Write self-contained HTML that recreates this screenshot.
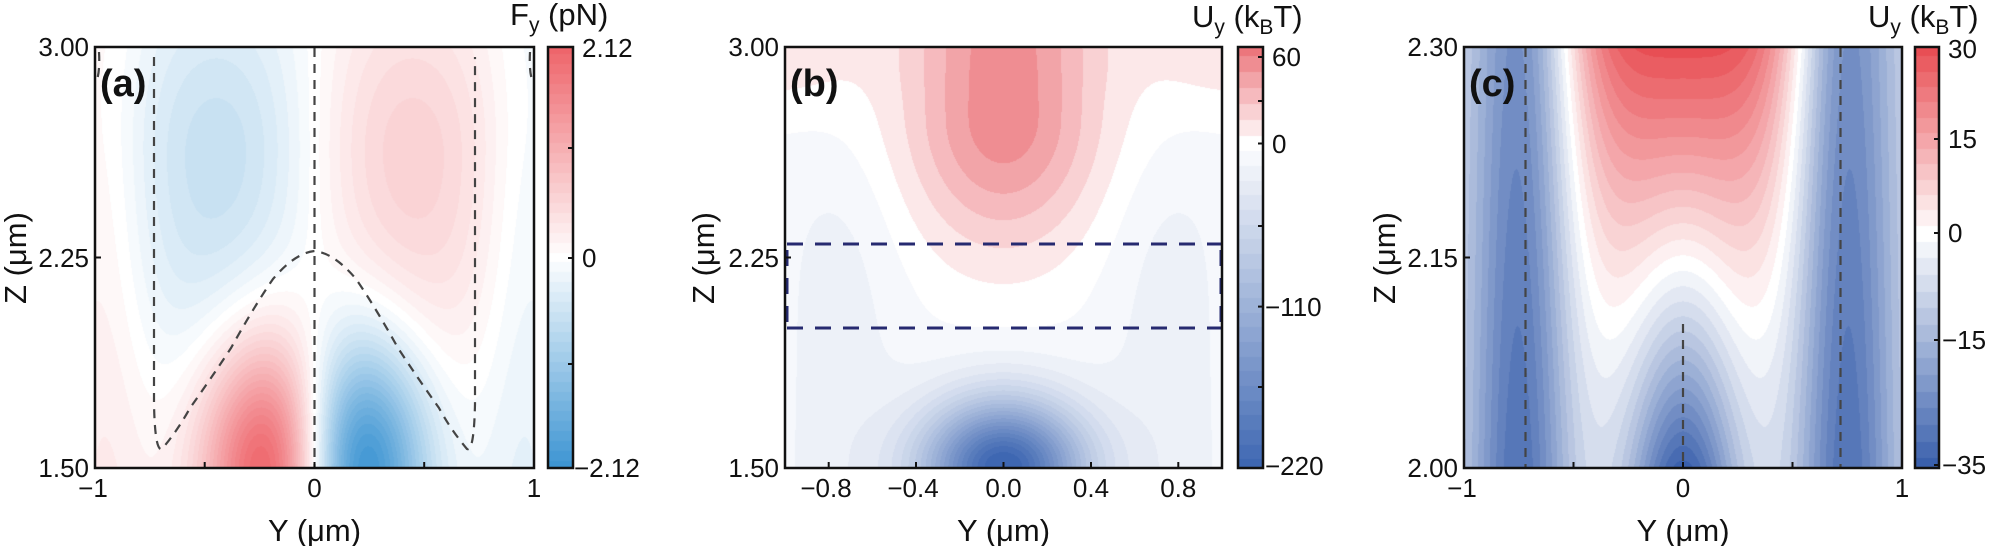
<!DOCTYPE html>
<html><head><meta charset="utf-8"><style>
html,body{margin:0;padding:0;background:#fff;}
#wrap{position:relative;width:1996px;height:546px;overflow:hidden;background:#fff;}
canvas{position:absolute;}
svg{position:absolute;left:0;top:0;}
text{font-family:"Liberation Sans",Arial,sans-serif;fill:#111;}
</style></head><body>
<div id="wrap">
<canvas id="ca" width="439" height="421" style="left:95px;top:47px"></canvas>
<canvas id="cba" width="25" height="421" style="left:548px;top:47px"></canvas>
<canvas id="cb" width="437" height="421" style="left:785px;top:47px"></canvas>
<canvas id="cbb" width="25" height="421" style="left:1238px;top:47px"></canvas>
<canvas id="cc" width="438" height="421" style="left:1464px;top:47px"></canvas>
<canvas id="cbc" width="24" height="421" style="left:1915px;top:47px"></canvas>
<svg width="1996" height="546" viewBox="0 0 1996 546">
<!-- Panel a -->
<g fill="none" stroke="#444" stroke-width="2.2" stroke-dasharray="9,7">
<line x1="314.5" y1="48" x2="314.5" y2="467"/>
<path d="M154,57 L154,404 Q155,452 162,449 Q178,430 190,408 Q210,380 231,348 Q255,305 273,279 Q295,253 314.5,251 Q334,253 356,279 Q374,305 398,348 Q419,380 439,408 Q451,430 467,449 Q474,452 475,404 L475,57"/>
<path d="M99,52 Q100,70 97,80"/><path d="M530,52 Q529,70 532,80"/>
</g>
<rect x="95" y="47" width="439" height="421" fill="none" stroke="#111" stroke-width="2.5"/>
<g stroke="#111" stroke-width="2">
<line x1="204.7" y1="468" x2="204.7" y2="462"/><line x1="314.5" y1="468" x2="314.5" y2="462"/><line x1="424.2" y1="468" x2="424.2" y2="462"/>
<line x1="95" y1="257.5" x2="101" y2="257.5"/>
</g>
<rect x="548" y="47" width="25" height="421" fill="none" stroke="#111" stroke-width="2.5"/>
<g stroke="#111" stroke-width="2"><line x1="573" y1="148" x2="568" y2="148"/><line x1="573" y1="258" x2="568" y2="258"/><line x1="573" y1="364" x2="568" y2="364"/></g>
<g font-size="26">
<text x="89" y="56" text-anchor="end">3.00</text>
<text x="89" y="267" text-anchor="end">2.25</text>
<text x="89" y="477" text-anchor="end">1.50</text>
<text x="93" y="497" text-anchor="middle">−1</text>
<text x="314.5" y="497" text-anchor="middle">0</text>
<text x="534" y="497" text-anchor="middle">1</text>
<text x="582" y="57">2.12</text>
<text x="582" y="267">0</text>
<text x="574" y="477">−2.12</text>
</g>
<text x="314.5" y="541" font-size="31" text-anchor="middle">Y (μm)</text>
<text transform="translate(26,258) rotate(-90)" font-size="31" text-anchor="middle">Z (μm)</text>
<text x="510" y="25" font-size="31">F<tspan font-size="21" dy="7">y</tspan><tspan dy="-7"> (pN)</tspan></text>
<text x="100" y="96" font-size="38" font-weight="bold">(a)</text>

<!-- Panel b -->
<g fill="none" stroke="#262a70" stroke-width="3" stroke-dasharray="16,12">
<line x1="787" y1="244" x2="1221" y2="244"/><line x1="787" y1="328" x2="1221" y2="328"/>
<line x1="787" y1="250" x2="787" y2="328"/><line x1="1221" y1="250" x2="1221" y2="328"/>
</g>
<rect x="785" y="47" width="437" height="421" fill="none" stroke="#111" stroke-width="2.5"/>
<g stroke="#111" stroke-width="2">
<line x1="828.7" y1="468" x2="828.7" y2="462"/><line x1="916" y1="468" x2="916" y2="462"/><line x1="1003.5" y1="468" x2="1003.5" y2="462"/><line x1="1091" y1="468" x2="1091" y2="462"/><line x1="1178.3" y1="468" x2="1178.3" y2="462"/>
<line x1="785" y1="257.5" x2="791" y2="257.5"/>
</g>
<rect x="1238" y="47" width="25" height="421" fill="none" stroke="#111" stroke-width="2.5"/>
<g stroke="#111" stroke-width="2"><line x1="1263" y1="57" x2="1258" y2="57"/><line x1="1263" y1="101" x2="1258" y2="101"/><line x1="1263" y1="143.5" x2="1258" y2="143.5"/><line x1="1263" y1="226" x2="1258" y2="226"/><line x1="1263" y1="306.6" x2="1258" y2="306.6"/><line x1="1263" y1="387" x2="1258" y2="387"/></g>
<g font-size="26">
<text x="779" y="56" text-anchor="end">3.00</text>
<text x="779" y="267" text-anchor="end">2.25</text>
<text x="779" y="477" text-anchor="end">1.50</text>
<text x="826" y="497" text-anchor="middle">−0.8</text>
<text x="913" y="497" text-anchor="middle">−0.4</text>
<text x="1003.5" y="497" text-anchor="middle">0.0</text>
<text x="1091" y="497" text-anchor="middle">0.4</text>
<text x="1178.3" y="497" text-anchor="middle">0.8</text>
<text x="1272" y="66">60</text>
<text x="1272" y="153">0</text>
<text x="1265" y="316">−110</text>
<text x="1265" y="475">−220</text>
</g>
<text x="1003.5" y="541" font-size="31" text-anchor="middle">Y (μm)</text>
<text transform="translate(714,258) rotate(-90)" font-size="31" text-anchor="middle">Z (μm)</text>
<text x="1192" y="27" font-size="31">U<tspan font-size="21" dy="7">y</tspan><tspan dy="-7"> (k</tspan><tspan font-size="21" dy="7">B</tspan><tspan dy="-7">T)</tspan></text>
<text x="790" y="96" font-size="38" font-weight="bold">(b)</text>

<!-- Panel c -->
<g fill="none" stroke="#444" stroke-width="2.2" stroke-dasharray="9,7">
<line x1="1525.5" y1="48" x2="1525.5" y2="467"/>
<line x1="1840.5" y1="48" x2="1840.5" y2="467"/>
<line x1="1683" y1="324" x2="1683" y2="467"/>
</g>
<rect x="1464" y="47" width="438" height="421" fill="none" stroke="#111" stroke-width="2.5"/>
<g stroke="#111" stroke-width="2">
<line x1="1573.5" y1="468" x2="1573.5" y2="462"/><line x1="1683" y1="468" x2="1683" y2="462"/><line x1="1792.5" y1="468" x2="1792.5" y2="462"/>
<line x1="1464" y1="257.5" x2="1470" y2="257.5"/>
</g>
<rect x="1915" y="47" width="24" height="421" fill="none" stroke="#111" stroke-width="2.5"/>
<g stroke="#111" stroke-width="2"><line x1="1939" y1="139" x2="1934" y2="139"/><line x1="1939" y1="233" x2="1934" y2="233"/><line x1="1939" y1="340" x2="1934" y2="340"/><line x1="1939" y1="465" x2="1934" y2="465"/></g>
<g font-size="26">
<text x="1458" y="56" text-anchor="end">2.30</text>
<text x="1458" y="267" text-anchor="end">2.15</text>
<text x="1458" y="477" text-anchor="end">2.00</text>
<text x="1462" y="497" text-anchor="middle">−1</text>
<text x="1683" y="497" text-anchor="middle">0</text>
<text x="1902" y="497" text-anchor="middle">1</text>
<text x="1948" y="58">30</text>
<text x="1948" y="148">15</text>
<text x="1948" y="242">0</text>
<text x="1942" y="349">−15</text>
<text x="1942" y="474">−35</text>
</g>
<text x="1683" y="541" font-size="31" text-anchor="middle">Y (μm)</text>
<text transform="translate(1395,258) rotate(-90)" font-size="31" text-anchor="middle">Z (μm)</text>
<text x="1868" y="27" font-size="31">U<tspan font-size="21" dy="7">y</tspan><tspan dy="-7"> (k</tspan><tspan font-size="21" dy="7">B</tspan><tspan dy="-7">T)</tspan></text>
<text x="1469" y="96" font-size="38" font-weight="bold">(c)</text>
</svg>
</div>
<script>
function E(x){return Math.exp(x);}
function mix(c,f){f=Math.max(0,Math.min(1,f));return [255+(c[0]-255)*f,255+(c[1]-255)*f,255+(c[2]-255)*f];}
function cmap(v,pmax,nmax,pc,nc){return v>=0?mix(pc,v/pmax):mix(nc,v/nmax);}
function quant(v,sp,sn){return v>=0?Math.round(v/sp)*sp:Math.round(v/sn)*sn;}
function paint(id,fn,col){var c=document.getElementById(id),ctx=c.getContext('2d'),W=c.width,H=c.height,im=ctx.createImageData(W,H),d=im.data;
for(var j=0;j<H;j++)for(var i=0;i<W;i++){var rgb=col(fn((i+0.5)/W,1-(j+0.5)/H,j));var k=(j*W+i)*4;d[k]=rgb[0];d[k+1]=rgb[1];d[k+2]=rgb[2];d[k+3]=255;}
ctx.putImageData(im,0,0);}
// Panel a
function Fa(y,z){var s=Math.abs(y);
var p=(s/0.25)*E((1-(s/0.25)*(s/0.25))/2);
var p2=(s/0.45)*E((1-(s/0.45)*(s/0.45))/2);
var gb=E(-Math.pow((z-1.5)/0.33,2)/2);
var dz=z-2.6, gt=dz<0?E(-dz*dz/(2*0.6*0.6)):E(-dz*dz/(2*0.45*0.45));
var ed=0.3*E(-Math.pow((s-0.95)/0.15,2)/2)*(z<2.3?1:E(-Math.pow((z-2.3)/0.8,2)/2));
var M=2.12*p*gb-0.62*p2*gt+ed;
return y<0?M:-M;}
var PA=[238,100,106],NA=[60,148,210];
paint('ca',function(u,v){return Fa(-1+2*u,1.5+1.5*v);},function(f){return cmap(quant(f,0.1,0.1),2.12,-2.12,PA,NA);});
paint('cba',function(u,v){return -2.12+4.24*v;},function(f){return cmap(quant(f,0.1,0.1),2.12,-2.12,PA,NA);});
// Panel b
function Ub(y,z){var s=Math.abs(y);
var bot=-220*E(-y*y/(2*0.26*0.26))*E(-Math.pow(z-1.5,2)/(2*0.17*0.17));
var dz=z-2.75,g=dz<0?E(-dz*dz/(2*0.33*0.33)):E(-dz*dz/(2*1.2*1.2));
var top=64*E(-0.5*Math.pow(s/0.32,2))*g;
var bg=-7-13*E(-Math.pow((s-0.75)/0.2,2)/2)/(1+E((z-2.55)/0.12))+20*E(-Math.pow((s-1.05)/0.3,2)/2)*E(-Math.pow((3-z)/0.16,2)/2);
return bot+top+bg;}
var PB=[236,118,124],NB=[62,103,178];
paint('cb',function(u,v){return Ub(-1+2*u,1.5+1.5*v);},function(f){return cmap(quant(f,11,10),66,-220,PB,NB);});
paint('cbb',function(u,v,j){var py=j+47;return py<143.5?66*(143.5-py)/95.5:-220*(py-143.5)/322.5;},function(f){return cmap(quant(f,11,10),66,-220,PB,NB);});
// Panel c
function Uc(y,t){var s=Math.abs(y);
var S=-(19+6*(1-t))*E(-Math.pow((s-0.75)/0.16,2)/2)-6;
var a=3.6+32.4*Math.pow(t,1.5),b=32.6*Math.pow(1-t,2);
return a*E(-Math.pow(s/0.54,4))-b*E(-Math.pow(s/0.17,2)/2)+S;}
var PC=[232,78,84],NC=[58,96,172];
paint('cc',function(u,v){return Uc(-1+2*u,v);},function(f){return cmap(quant(f,2.5,2.5),30,-35,PC,NC);});
paint('cbc',function(u,v,j){var py=j+47;return py<233?30*(233-py)/185:-35*(py-233)/233;},function(f){return cmap(quant(f,2.5,2.5),30,-35,PC,NC);});
</script>
</body></html>
